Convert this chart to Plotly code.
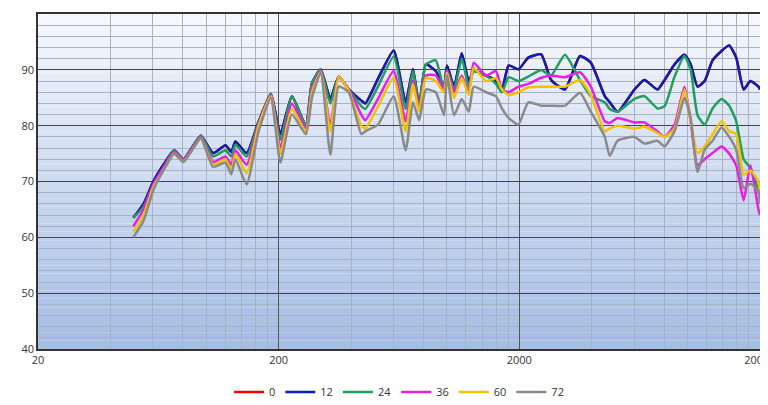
import plotly.graph_objects as go
import math

freq = [49.8, 54.9, 60.3, 66.4, 73.6, 80.3, 88.5, 95.0, 106.8, 120.2, 127.2, 132.2, 147.2, 165.0, 185.6,
        203.3, 227, 259.5, 275, 299, 328, 355, 391, 441, 458, 517, 601, 674, 723, 767, 818, 899, 973,
        1001, 1071, 1153, 1232, 1293, 1454, 1599, 1693, 1805, 1982, 2180, 2466, 2710, 3094, 3573, 3963,
        4530, 4750, 5120, 6020, 6620, 7500, 8030, 8830, 9710, 10300, 11000, 11780, 12700, 13840, 14900,
        15930, 17100, 18250, 19700, 20000]

s12 = [63.5, 66, 70, 73, 75.6, 74, 76.5, 78.2, 75.1, 76.5, 75.3, 77.2, 75.1, 80.7, 85.7, 78.5, 85.3, 80, 87.6,
       90.1, 84.8, 88.8, 86.5, 84.5, 84, 88.4, 93.5, 84.2, 90.1, 83.6, 91, 89.8, 87, 90.8, 87, 93, 88, 89.8,
       89, 88, 86.5, 90.8, 90.1, 92.2, 92.8, 88.2, 86.5, 92.5, 91.3, 85.3, 84.2, 82.5, 86.5, 88.2, 86.5, 88.2,
       91, 92.7, 91, 87, 88, 91.7, 93.4, 94.4, 92.2, 86.5, 88, 87, 86.5]
s24 = [63.5, 65.5, 69.5, 72.5, 75.6, 74, 76.5, 78.2, 74.5, 75.6, 74.5, 76.6, 74.5, 80.5, 85.7, 77.5, 85.3, 80,
       87.5, 90.1, 84, 88.8, 86.5, 83.5, 83, 87, 92.4, 83, 89.8, 83.5, 91, 91.7, 86.5, 90, 86.5, 92, 87, 89.8,
       89, 87.5, 86, 88.7, 88, 88.8, 90, 89, 92.7, 88.2, 85.3, 84.2, 83, 82.5, 84.8, 85.3, 83.1, 83.5, 88.8,
       92.5, 90, 81.9, 80.2, 83.1, 84.8, 83.6, 80.8, 74, 72.4, 68.3, 67]
s36 = [62, 65, 69.5, 72.5, 75.3, 73.8, 76.3, 78, 73.5, 74.5, 73, 75.6, 73, 80.3, 85.5, 76, 84, 79.5, 86.5, 89.8,
       80, 88.8, 86.5, 82, 81, 84.8, 89.8, 80.8, 88.1, 83, 89, 89, 86.5, 89.8, 86, 89, 86, 91.3, 89, 89.8, 86.5,
       86, 87, 87.5, 88.6, 89, 88.7, 89.6, 87, 80.8, 80.5, 81.4, 80.6, 80.6, 79, 78, 80.2, 87, 80.8, 72.9, 74,
       75.1, 76.3, 75, 72.9, 66.6, 72.9, 65, 64]
s60 = [61, 64, 69, 72, 75, 73.6, 76, 77.8, 73, 74, 72, 75, 71.5, 80, 85.3, 75, 83, 79, 86, 89.6, 79, 88.8, 86.3,
       80, 79.5, 83.4, 88.6, 79, 87.5, 82.5, 88.6, 88, 86, 89.5, 85, 88.6, 85.5, 90.4, 88, 88.5, 86.5, 85.5, 86,
       86.9, 87, 87, 87, 88.2, 85.5, 79, 79.5, 80, 79.5, 79.8, 78.7, 78, 79.5, 86.5, 81, 75.1, 76.3, 78.5, 80.8,
       79, 78.5, 71.2, 72, 70, 68]
s72 = [60, 63, 68.5, 72, 75, 73.5, 76, 77.8, 72.6, 73.4, 71.3, 74, 69.5, 79, 85, 73.4, 82, 78.5, 85, 89.5, 74.8,
       87, 86, 78.5, 79, 80.2, 85.3, 75.6, 84.2, 81, 86.5, 86, 81.9, 89, 81.9, 84.8, 82.5, 87, 86, 85.3, 83.1,
       81.4, 80.2, 84.2, 83.6, 83.6, 83.6, 85.9, 82.5, 78, 74.6, 77.3, 78, 76.8, 77.3, 76.3, 79, 85, 81.4, 71.7,
       75.7, 77.3, 79.7, 78, 75.7, 68.8, 69.6, 68.3, 66]
s0 = list(s12)

names = ["0", "12", "24", "36", "60", "72"]
series = [s0, s12, s24, s36, s60, s72]
colors = ["#ff0000", "#0a1fb4", "#1f9e5c", "#e61ee6", "#f2c200", "#8a8a8a"]

xmajor = [20, 200, 2000, 20000]
xminor = [m * d for d in (20, 200, 2000) for m in range(2, 10)]
ymajor = [40, 50, 60, 70, 80, 90, 100]
xlabels = ["20", "200", "2000", "20000"]

fig = go.Figure()
for n, s, c in zip(names, series, colors):
    fig.add_trace(go.Scatter(x=freq, y=s, name=n, mode="lines",
                             line=dict(color=c, width=2.5, shape="spline", smoothing=0.5)))

N = 40
top = (246, 248, 253)
bot = (165, 190, 228)
shapes = []
for i in range(N):
    t = i / (N - 1)
    col = tuple(int(top[k] + (bot[k] - top[k]) * t) for k in range(3))
    shapes.append(dict(type="rect", xref="x domain", yref="y domain", x0=0, x1=1,
                       y0=1 - (i + 1) / N, y1=1 - i / N, fillcolor="rgb(%d,%d,%d)" % col,
                       line=dict(width=0), layer="below"))

fig.update_layout(
    width=768, height=405, margin=dict(l=30, r=16, t=6, b=49),
    paper_bgcolor="white", plot_bgcolor="white", shapes=shapes,
    font=dict(family="Open Sans", size=11, color="#333"),
    legend=dict(orientation="h", x=0.5, xanchor="center", y=-0.085, yanchor="top",
                font=dict(size=11), itemwidth=30, tracegroupgap=0, bgcolor="rgba(0,0,0,0)"),
    xaxis=dict(type="log", range=[math.log10(20), math.log10(20000)], tickmode="array",
               tickvals=xmajor, ticktext=xlabels, showgrid=True, gridcolor="#555", gridwidth=1,
               showline=True, linecolor="#333", linewidth=1.5, mirror=True, ticks="", zeroline=False,
               automargin=False,
               minor=dict(tickmode="array", tickvals=xminor, showgrid=True, gridcolor="#a8b2c4",
                          gridwidth=1, ticks="")),
    yaxis=dict(range=[40, 100.02], tickmode="array", tickvals=ymajor, showgrid=True, gridcolor="#444",
               gridwidth=1, showline=True, linecolor="#333", linewidth=1.5, mirror=True, ticks="",
               zeroline=False, automargin=False,
               minor=dict(dtick=2, showgrid=True, gridcolor="#a8b2c4", gridwidth=1, ticks="")),
)
fig.write_html("out.html")
